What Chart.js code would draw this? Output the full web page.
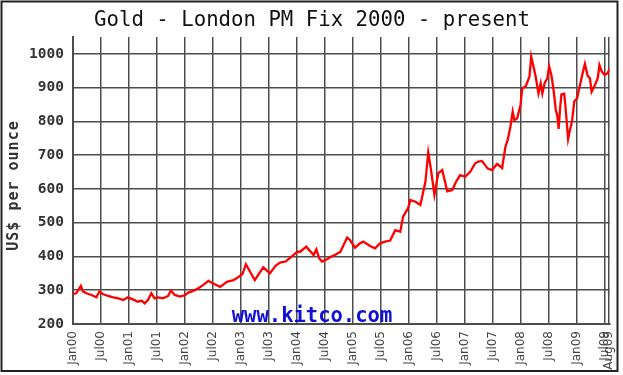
<!DOCTYPE html>
<html>
<head>
<meta charset="utf-8">
<script src="https://cdn.jsdelivr.net/npm/chart.js@4/dist/chart.umd.min.js"></script>
<style>
html,body{margin:0;padding:0;background:#fff;}
canvas{display:block;}
</style>
</head>
<body>
<canvas id="c" width="623" height="375"></canvas>
<script>
// Years since Jan 2000
const years = [
 0.00,0.06,0.14,0.18,0.24,0.33,0.42,0.47,0.54,0.63,0.72,0.81,0.90,0.98,
 1.07,1.16,1.23,1.28,1.34,1.40,1.46,1.52,1.61,1.70,1.75,1.82,1.91,
 2.00,2.06,2.15,2.24,2.33,2.42,2.48,2.55,2.63,2.75,2.87,2.95,
 3.03,3.09,3.25,3.40,3.52,3.62,3.70,3.80,3.88,
 4.01,4.06,4.17,4.30,4.35,4.40,4.45,4.54,4.62,4.69,4.78,4.90,4.95,
 5.04,5.13,5.19,5.31,5.40,5.49,5.58,5.67,5.76,5.85,5.90,5.99,
 6.03,6.12,6.21,6.30,6.35,6.40,6.46,6.53,6.60,6.69,6.78,6.85,6.92,
 7.01,7.10,7.19,7.25,7.31,7.41,7.49,7.58,7.67,7.73,7.77,7.82,7.86,7.89,7.94,
 8.00,8.03,8.09,8.16,8.19,8.23,8.27,8.32,8.36,8.39,8.43,8.48,8.51,8.55,8.59,
 8.63,8.66,8.68,8.71,8.73,8.78,8.80,8.83,8.85,8.87,8.92,8.96,
 9.01,9.07,9.11,9.15,9.20,9.24,9.27,9.33,9.38,9.41,9.45,9.50,9.56,9.59
];
// London PM fix, US$ per ounce
const prices = [
 289,291,313,296,291,286,279,296,288,283,279,276,271,279,
 273,266,269,261,271,291,276,279,276,283,299,286,281,
 285,293,298,306,316,328,322,316,310,325,330,338,
 348,377,330,368,350,372,382,385,396,
 414,414,429,404,421,395,385,392,400,405,414,456,449,
 426,439,444,431,424,439,444,447,478,473,518,543,
 567,562,553,622,708,656,582,647,656,593,597,622,641,
 636,651,676,681,683,661,656,674,662,725,745,785,829,804,809,
 849,898,903,933,992,963,933,883,913,883,913,928,963,938,893,
 834,815,778,844,880,882,850,790,748,765,800,859,
 869,913,943,970,935,928,888,908,928,967,948,938,943,957
];
// X axis ticks (years since Jan 2000) and their labels
const xTickValues = [0,0.5,1,1.5,2,2.5,3,3.5,4,4.5,5,5.5,6,6.5,7,7.5,8,8.5,9,9.5,9.583];
const xTickLabels = ['Jan00','Jul00','Jan01','Jul01','Jan02','Jul02','Jan03','Jul03','Jan04','Jul04',
 'Jan05','Jul05','Jan06','Jul06','Jan07','Jul07','Jan08','Jul08','Jan09','Jul09','Aug09'];
// Y axis grid values and labels
const yTickValues = [200,250,300,350,400,450,500,550,600,650,700,750,800,850,900,950,1000,1050];
const yTickLabels = ['200','','300','','400','','500','','600','','700','','800','','900','','1000',''];

const titleText = 'Gold - London PM Fix 2000 - present';
const yTitleText = 'US$ per ounce';
const watermarkText = 'www.kitco.com';

const points = years.map((x, i) => ({x: x, y: prices[i]}));
const gridColor = '#4d4d4d';

const decor = {
  id: 'decor',
  afterDatasetsDraw(chart) {
    const ctx = chart.ctx;
    ctx.save();
    ctx.font = 'bold 20.5px "DejaVu Sans Mono"';
    ctx.fillStyle = '#1010d8';
    ctx.textAlign = 'center';
    ctx.textBaseline = 'alphabetic';
    ctx.fillText(watermarkText, 312, 322);
    ctx.restore();
  },
  afterDraw(chart) {
    const ctx = chart.ctx;
    // title
    ctx.save();
    ctx.font = '20.7px "DejaVu Sans Mono"';
    ctx.fillStyle = '#111';
    ctx.textAlign = 'center';
    ctx.textBaseline = 'alphabetic';
    ctx.fillText(titleText, 312, 26);
    ctx.restore();
    // y axis title
    ctx.save();
    ctx.translate(14.5, 185.5);
    ctx.rotate(-Math.PI / 2);
    ctx.font = 'bold 15px "DejaVu Sans Mono"';
    try { ctx.letterSpacing = '1px'; } catch (e) {}
    ctx.fillStyle = '#333';
    ctx.textAlign = 'center';
    ctx.textBaseline = 'middle';
    ctx.fillText(yTitleText, 0, 0);
    ctx.restore();
    // frame
    ctx.save();
    ctx.strokeStyle = '#222';
    ctx.lineWidth = 2;
    ctx.strokeRect(1.5, 1.5, 616, 369.5);
    ctx.restore();
  }
};

new Chart(document.getElementById('c'), {
  type: 'line',
  data: {
    datasets: [{
      data: points,
      borderColor: '#ff0000',
      borderWidth: 2.3,
      pointRadius: 0,
      tension: 0,
      fill: false
    }]
  },
  options: {
    responsive: false,
    animation: false,
    devicePixelRatio: 1,
    layout: {padding: {top: 37, left: 0, right: 13.5, bottom: 0}},
    plugins: {
      legend: {display: false},
      tooltip: {enabled: false},
      title: {display: false}
    },
    scales: {
      x: {
        type: 'linear',
        min: 0,
        max: 9.59,
        afterBuildTicks: s => { s.ticks = xTickValues.map(v => ({value: v})); },
        afterFit: s => { s.height = 51; s.paddingLeft = 0; s.paddingRight = 0; },
        grid: {color: gridColor, lineWidth: 1.5, drawTicks: false},
        border: {color: gridColor, width: 2},
        ticks: {
          autoSkip: false,
          maxRotation: 90,
          minRotation: 90,
          padding: 7,
          color: '#444',
          font: {family: 'DejaVu Sans', size: 12},
          callback: (v, i) => xTickLabels[i]
        }
      },
      y: {
        min: 200,
        max: 1050,
        afterBuildTicks: s => { s.ticks = yTickValues.map(v => ({value: v})); },
        afterFit: s => { s.width = 73; s.paddingTop = 0; s.paddingBottom = 0; },
        grid: {color: gridColor, lineWidth: 1.5, drawTicks: false},
        border: {color: gridColor, width: 2},
        ticks: {
          padding: 9,
          color: '#333',
          font: {family: 'DejaVu Sans Mono', size: 14.5, weight: 'bold'},
          callback: (v, i) => yTickLabels[i]
        }
      }
    }
  },
  plugins: [decor]
});
</script>
</body>
</html>
